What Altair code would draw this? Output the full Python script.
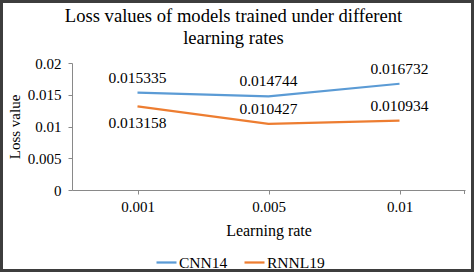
import altair as alt
import pandas as pd

# Loss values per model at each learning rate
rates = ["0.001", "0.005", "0.01"]
cnn14 = [0.015335, 0.014744, 0.016732]
rnnl19 = [0.013158, 0.010427, 0.010934]
models = ["CNN14", "RNNL19"]
colors = ["#5B9BD5", "#ED7D31"]
y_ticks = [0, 0.005, 0.01, 0.015, 0.02]
title_lines = ["Loss values of models trained under different", "learning rates"]

df = pd.DataFrame(
    [{"rate": r, "model": "CNN14", "loss": v} for r, v in zip(rates, cnn14)]
    + [{"rate": r, "model": "RNNL19", "loss": v} for r, v in zip(rates, rnnl19)]
)

FONT = "Liberation Serif"
AXIS_GRAY = "#898989"
PLOT_W, PLOT_H = 393, 127
PAD = {"left": 72, "top": 63, "right": 9, "bottom": 82}

x_enc = alt.X(
    "rate:N",
    sort=rates,
    scale=alt.Scale(type="point", padding=0.5),
    axis=alt.Axis(
        title="Learning rate",
        labelAngle=0,
        labelPadding=5,
        titlePadding=8,
        titleFontSize=16,
        tickSize=4,
    ),
)
y_enc = alt.Y(
    "loss:Q",
    scale=alt.Scale(domain=[0, 0.02]),
    axis=alt.Axis(
        title="Loss value",
        values=y_ticks,
        format="~g",
        grid=False,
        tickSize=4,
        labelPadding=7,
        titlePadding=5,
    ),
)
color_enc = alt.Color(
    "model:N",
    scale=alt.Scale(domain=models, range=colors),
    legend=alt.Legend(
        title=None,
        orient="none",
        direction="horizontal",
        legendX=83,
        legendY=188,
        symbolType="stroke",
        symbolStrokeWidth=2.25,
        symbolSize=400,
        labelOffset=1,
        columnPadding=12,
        labelFont=FONT,
        labelFontSize=15.5,
        labelColor="black",
    ),
)

base = alt.Chart(df).encode(x=x_enc, y=y_enc)

lines = base.mark_line(strokeWidth=2.25).encode(color=color_enc)

text_style = dict(font=FONT, fontSize=15.5, color="black")
labels_above = (
    base.transform_filter("datum.model == 'CNN14' || datum.rate != '0.001'")
    .mark_text(dy=-15, **text_style)
    .encode(text=alt.Text("loss:Q", format=".6f"))
)
labels_below = (
    base.transform_filter("datum.model == 'RNNL19' && datum.rate == '0.001'")
    .mark_text(dy=17, **text_style)
    .encode(text=alt.Text("loss:Q", format=".6f"))
)

# two-line chart heading above the plot
heading = (
    alt.Chart(alt.Data(values=[{"t": "\n".join(title_lines)}]))
    .mark_text(
        font=FONT,
        fontSize=18.6,
        color="black",
        align="center",
        baseline="alphabetic",
        lineBreak="\n",
        lineHeight=21.5,
    )
    .encode(text="t:N", x=alt.value(161.5), y=alt.value(-41))
)

# closing tick at the right end of the category axis
end_tick = (
    alt.Chart(alt.Data(values=[{}]))
    .mark_rule(color=AXIS_GRAY, strokeWidth=1)
    .encode(x=alt.value(PLOT_W - 0.5), y=alt.value(PLOT_H), y2=alt.value(PLOT_H + 4))
)

# dark frame around the whole figure
frame = (
    alt.Chart(alt.Data(values=[{}]))
    .mark_rect(filled=False, stroke="#3d3d3d", strokeWidth=3)
    .encode(
        x=alt.value(-PAD["left"] + 1.5),
        x2=alt.value(PLOT_W + PAD["right"] - 1.5),
        y=alt.value(-PAD["top"] + 1.5),
        y2=alt.value(PLOT_H + PAD["bottom"] - 1.5),
    )
)

chart = (
    alt.layer(lines, labels_above, labels_below, heading, end_tick, frame)
    .properties(
        width=PLOT_W,
        height=PLOT_H,
        padding=PAD,
        autosize=alt.AutoSizeParams(type="none"),
        background="white",
    )
    .configure_view(stroke=None)
    .configure_axis(
        labelFont=FONT,
        titleFont=FONT,
        labelFontSize=15,
        titleFontSize=15,
        titleFontWeight="normal",
        labelColor="black",
        titleColor="black",
        domainColor=AXIS_GRAY,
        tickColor=AXIS_GRAY,
    )
)

chart.save("out.html", embed_options={"renderer": "svg", "actions": False})
